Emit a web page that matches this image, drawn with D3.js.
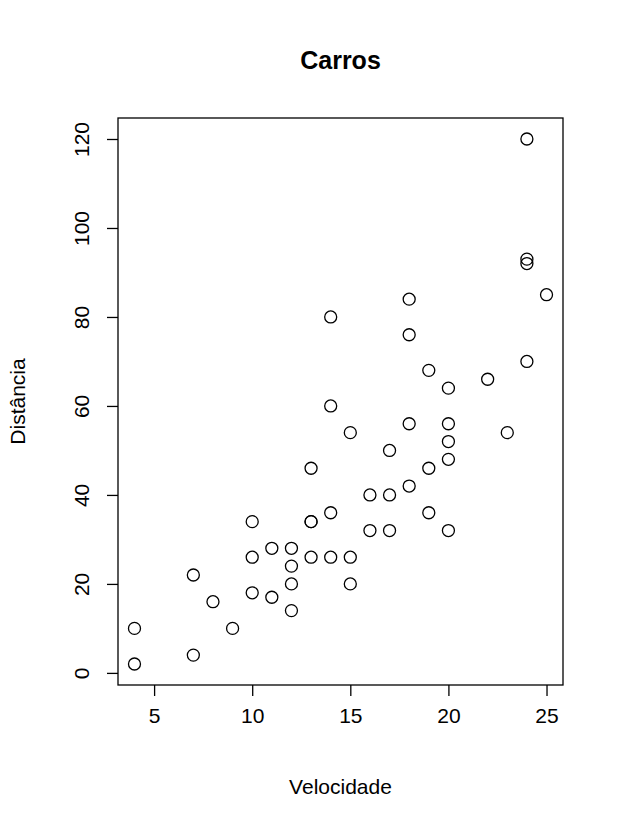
<!DOCTYPE html>
<html>
<head>
<meta charset="utf-8">
<script src="https://cdn.jsdelivr.net/npm/d3@7"></script>
<style>
body { margin: 0; background: #fff; }
text { font-family: "Liberation Sans", Arial, sans-serif; }
</style>
</head>
<body>
<div id="chart"></div>
<script>
const speed = [4,4,7,7,8,9,10,10,10,11,11,12,12,12,12,13,13,13,13,14,14,14,14,15,15,15,16,16,17,17,17,18,18,18,18,19,19,19,20,20,20,20,20,22,23,24,24,24,24,25];
const dist = [2,10,4,22,16,10,18,26,34,17,28,14,20,24,28,26,34,34,46,26,36,60,80,20,26,54,32,40,32,40,50,42,56,76,84,36,46,68,32,48,52,56,64,66,54,70,92,93,120,85];
const xTicks = [5,10,15,20,25];
const yTicks = [0,20,40,60,80,100,120];

const margin = {left: 118, right: 61, top: 118, bottom: 147};
const W = 624, H = 832;

const svg = d3.select("#chart").append("svg")
    .attr("width", W).attr("height", H);

// R-style 4% axis expansion
const xr = d3.extent(speed), yr = d3.extent(dist);
const xpad = (xr[1]-xr[0])*0.04, ypad = (yr[1]-yr[0])*0.04;
const x = d3.scaleLinear().domain([xr[0]-xpad, xr[1]+xpad]).range([margin.left, W - margin.right]);
const y = d3.scaleLinear().domain([yr[0]-ypad, yr[1]+ypad]).range([H - margin.bottom, margin.top]);

svg.append("rect")
    .attr("x", margin.left).attr("y", margin.top)
    .attr("width", W - margin.left - margin.right)
    .attr("height", H - margin.bottom - margin.top)
    .attr("fill", "none").attr("stroke", "#000").attr("stroke-width", 1.3);

const xAxis = svg.append("g")
    .attr("transform", "translate(0," + (H - margin.bottom) + ")")
    .call(d3.axisBottom(x).tickValues(xTicks).tickSize(11).tickPadding(12));
const yAxis = svg.append("g")
    .attr("transform", "translate(" + margin.left + ",0)")
    .call(d3.axisLeft(y).tickValues(yTicks).tickSize(11));

[xAxis, yAxis].forEach(g => {
  g.select(".domain").remove();
  g.selectAll("line").attr("stroke-width", 1.3);
  g.selectAll("text").attr("font-size", 21).attr("fill", "#000");
});

yAxis.selectAll(".tick text")
    .attr("x", null).attr("dy", null)
    .attr("text-anchor", "middle")
    .attr("transform", "translate(-36,0) rotate(-90)")
    .attr("dy", "0.35em");

svg.selectAll("circle.pt")
    .data(speed.map((s, i) => [s, dist[i]]))
    .enter().append("circle")
    .attr("class", "pt")
    .attr("cx", d => x(d[0])).attr("cy", d => y(d[1]))
    .attr("r", 6)
    .attr("fill", "none").attr("stroke", "#000").attr("stroke-width", 1.3);

svg.append("text").attr("x", (margin.left + W - margin.right)/2).attr("y", 69)
    .attr("text-anchor", "middle").attr("font-size", 25).attr("font-weight", "bold")
    .text("Carros");
svg.append("text").attr("x", (margin.left + W - margin.right)/2).attr("y", 794)
    .attr("text-anchor", "middle").attr("font-size", 21)
    .text("Velocidade");
svg.append("text")
    .attr("transform", "translate(25," + ((margin.top + H - margin.bottom)/2) + ") rotate(-90)")
    .attr("text-anchor", "middle").attr("font-size", 21)
    .text("Distância");
</script>
</body>
</html>
